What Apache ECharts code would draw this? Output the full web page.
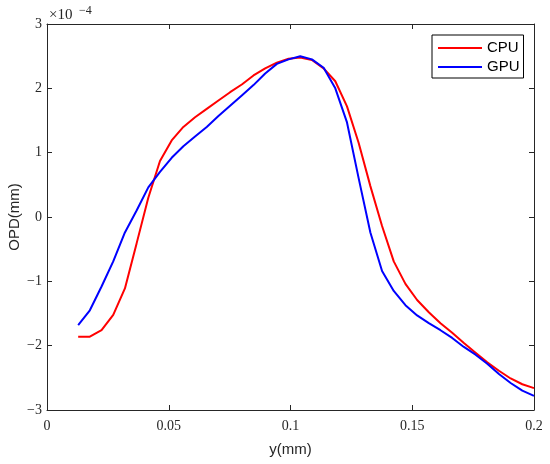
<!DOCTYPE html>
<html><head><meta charset="utf-8">
<script src="https://cdn.jsdelivr.net/npm/echarts@6/dist/echarts.min.js"></script>
<style>html,body{margin:0;padding:0;background:#fff}#c{width:550px;height:464px}</style>
</head><body><div id="c"></div>
<script>
const xValues = [0.0128, 0.0176, 0.0224, 0.0272, 0.032, 0.0368, 0.0416, 0.0464, 0.0512, 0.056,
  0.0608, 0.0656, 0.0704, 0.0752, 0.08, 0.0848, 0.0896, 0.0944, 0.0992, 0.104,
  0.1088, 0.1136, 0.1184, 0.1232, 0.128, 0.1328, 0.1376, 0.1424, 0.1472, 0.152,
  0.1568, 0.1616, 0.1664, 0.1712, 0.176, 0.1808, 0.1856, 0.1904, 0.1952, 0.2];
const cpuValues = [-1.86, -1.86, -1.76, -1.52, -1.11, -0.41, 0.30, 0.87, 1.19, 1.40,
  1.55, 1.68, 1.81, 1.94, 2.06, 2.20, 2.31, 2.40, 2.46, 2.48,
  2.44, 2.31, 2.11, 1.72, 1.15, 0.48, -0.14, -0.69, -1.04, -1.29,
  -1.48, -1.65, -1.80, -1.96, -2.11, -2.26, -2.39, -2.51, -2.60, -2.66];
const gpuValues = [-1.68, -1.45, -1.08, -0.69, -0.24, 0.10, 0.46, 0.70, 0.92, 1.10,
  1.25, 1.40, 1.57, 1.73, 1.89, 2.05, 2.23, 2.38, 2.45, 2.50,
  2.45, 2.32, 2.00, 1.47, 0.60, -0.24, -0.84, -1.15, -1.37, -1.53,
  -1.65, -1.76, -1.88, -2.02, -2.14, -2.28, -2.44, -2.58, -2.70, -2.78];
const xTickLabels = ['0', '0.05', '0.1', '0.15', '0.2'];
const yTickLabels = ['\u22123', '\u22122', '\u22121', '0', '1', '2', '3'];
const seriesNames = ['CPU', 'GPU'];
const xLabel = 'y(mm)';
const yLabel = 'OPD(mm)';
const scaleText = ['\u00d710', '\u22124'];

const chart = echarts.init(document.getElementById('c'), null, {renderer: 'canvas'});
const axisColor = '#262626';
const serif = '"Liberation Serif", "Times New Roman", serif';
const sans = '"Liberation Sans", Arial, sans-serif';
function pairs(vals) { return xValues.map((x, i) => [x, vals[i]]); }
const xMin = 0, xMax = 0.2, xInt = 0.05, yMin = -3, yMax = 3, yInt = 1;
function xFmt(v) { return xTickLabels[Math.round((v - xMin) / xInt)]; }
function yFmt(v) { return yTickLabels[Math.round((v - yMin) / yInt)]; }
const lineStyle = {color: axisColor, width: 1};
function baseAxis(extra) {
  return Object.assign({
    type: 'value',
    axisLine: {show: true, onZero: false, lineStyle: lineStyle},
    axisTick: {show: true, inside: true, length: 5, lineStyle: lineStyle},
    splitLine: {show: false}
  }, extra);
}
const option = {
  animation: false,
  backgroundColor: '#fff',
  grid: {left: 47, right: 16, top: 24, bottom: 54, containLabel: false, outerBoundsMode: 'none'},
  xAxis: [
    baseAxis({min: xMin, max: xMax, interval: xInt, position: 'bottom',
      name: xLabel, nameLocation: 'middle', nameGap: 32, nameMoveOverlap: false,
      nameTextStyle: {fontFamily: sans, fontSize: 15, color: axisColor},
      axisLabel: {fontFamily: serif, fontSize: 14, color: axisColor, margin: 9, formatter: xFmt}}),
    baseAxis({min: xMin, max: xMax, interval: xInt, position: 'top', axisLabel: {show: false}})
  ],
  yAxis: [
    baseAxis({min: yMin, max: yMax, interval: yInt, position: 'left',
      name: yLabel, nameLocation: 'middle', nameGap: 25, nameMoveOverlap: false,
      nameTextStyle: {fontFamily: sans, fontSize: 15, color: axisColor},
      axisLabel: {fontFamily: serif, fontSize: 14, color: axisColor, margin: 5, formatter: yFmt}}),
    baseAxis({min: yMin, max: yMax, interval: yInt, position: 'right', axisLabel: {show: false}})
  ],
  legend: {
    orient: 'vertical', left: 432, top: 35,
    padding: [5, 4, 3, 6], itemGap: 3,
    itemWidth: 44, itemHeight: 2, icon: 'rect',
    borderColor: '#000', borderWidth: 1, backgroundColor: '#fff',
    textStyle: {fontFamily: sans, fontSize: 15, color: '#000', padding: [0, 0, 0, 0], lineHeight: 16},
    itemStyle: {borderWidth: 0},
    data: seriesNames
  },
  graphic: [
    {type: 'text', left: 49, top: 8, style: {text: scaleText[0], font: '15px ' + serif, fill: axisColor}},
    {type: 'text', left: 79, top: 5, style: {text: scaleText[1], font: '12px ' + serif, fill: axisColor}}
  ],
  series: [
    {name: seriesNames[0], type: 'line', data: pairs(cpuValues), showSymbol: false, symbol: 'none',
      lineStyle: {color: '#ff0000', width: 2}, itemStyle: {color: '#ff0000'}, z: 2},
    {name: seriesNames[1], type: 'line', data: pairs(gpuValues), showSymbol: false, symbol: 'none',
      lineStyle: {color: '#0000ff', width: 2}, itemStyle: {color: '#0000ff'}, z: 3}
  ]
};
chart.setOption(option);
</script></body></html>
